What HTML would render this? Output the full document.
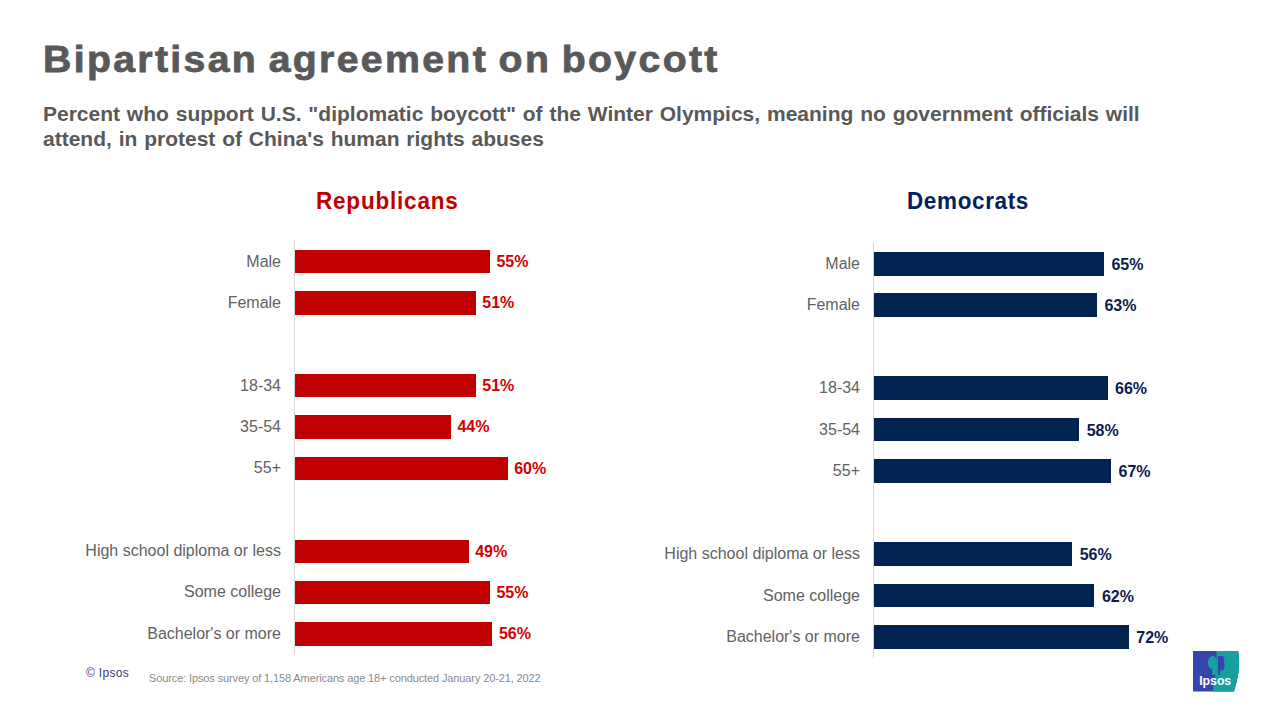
<!DOCTYPE html>
<html><head><meta charset="utf-8">
<style>
html,body{margin:0;padding:0;background:#fff;}
body{width:1280px;height:720px;position:relative;overflow:hidden;font-family:"Liberation Sans",sans-serif;}
.a{position:absolute;white-space:nowrap;}
#title{left:43px;top:36px;font-size:37px;font-weight:bold;color:#595959;line-height:48px;letter-spacing:2.2px;transform:scaleX(1.06);-webkit-text-stroke:0.8px #595959;word-spacing:-2.5px;transform-origin:0 0;}
.sub{left:43px;font-size:21px;font-weight:bold;color:#595959;line-height:25px;word-spacing:1.0px;letter-spacing:0px;}
#rh{left:316px;top:186px;font-size:22.5px;letter-spacing:0.8px;transform:scaleY(1.06);transform-origin:0 0;font-weight:bold;color:#C00000;line-height:30px;}
#dh{left:907px;top:186px;font-size:22.5px;letter-spacing:0.62px;transform:scaleY(1.06);transform-origin:0 0;font-weight:bold;color:#002060;line-height:30px;}
.axis{position:absolute;width:1px;background:#d9d9d9;}
.bar{position:absolute;height:23.2px;}
.rb{background:#C00000;height:23.3px;}
.db{background:#002352;height:23.7px;}
.lab{position:absolute;font-size:16px;color:#626262;line-height:20px;text-align:right;white-space:nowrap;}
.val{position:absolute;font-size:16px;font-weight:bold;line-height:20px;white-space:nowrap;}
.rv{color:#D40000;}
.dv{color:#0a2050;}
#copy{left:86px;top:665.3px;font-size:12px;color:#3c4070;line-height:16px;letter-spacing:0.3px;}
#src{left:149px;top:671px;font-size:11px;color:#8a8a8a;line-height:14px;letter-spacing:-0.12px;}
</style></head>
<body>
<div class="a" id="title">Bipartisan agreement on boycott</div>
<div class="a sub" id="s1" style="top:101px">Percent who support U.S. "diplomatic boycott" of the Winter Olympics, meaning no government officials will</div>
<div class="a sub" id="s2" style="top:126px">attend, in protest of China's human rights abuses</div>
<div class="a" id="rh">Republicans</div>
<div class="a" id="dh">Democrats</div>
<div class="axis" style="left:294px;top:240px;height:414.5px"></div>
<div class="bar rb" style="left:295px;top:250.00px;width:194.97px"></div>
<div class="lab" style="right:999px;top:251.50px">Male</div>
<div class="val rv" style="left:496.48px;top:252.00px">55%</div>
<div class="bar rb" style="left:295px;top:291.36px;width:180.79px"></div>
<div class="lab" style="right:999px;top:292.86px">Female</div>
<div class="val rv" style="left:482.29px;top:293.36px">51%</div>
<div class="bar rb" style="left:295px;top:374.08px;width:180.79px"></div>
<div class="lab" style="right:999px;top:375.58px">18-34</div>
<div class="val rv" style="left:482.29px;top:376.08px">51%</div>
<div class="bar rb" style="left:295px;top:415.44px;width:155.98px"></div>
<div class="lab" style="right:999px;top:416.94px">35-54</div>
<div class="val rv" style="left:457.48px;top:417.44px">44%</div>
<div class="bar rb" style="left:295px;top:456.80px;width:212.70px"></div>
<div class="lab" style="right:999px;top:458.30px">55+</div>
<div class="val rv" style="left:514.20px;top:458.80px">60%</div>
<div class="bar rb" style="left:295px;top:539.52px;width:173.70px"></div>
<div class="lab" style="right:999px;top:541.02px">High school diploma or less</div>
<div class="val rv" style="left:475.20px;top:541.52px">49%</div>
<div class="bar rb" style="left:295px;top:580.88px;width:194.97px"></div>
<div class="lab" style="right:999px;top:582.38px">Some college</div>
<div class="val rv" style="left:496.48px;top:582.88px">55%</div>
<div class="bar rb" style="left:295px;top:622.24px;width:197.46px"></div>
<div class="lab" style="right:999px;top:623.74px">Bachelor's or more</div>
<div class="val rv" style="left:498.96px;top:624.24px">56%</div>
<div class="axis" style="left:873px;top:243px;height:415px"></div>
<div class="bar db" style="left:874px;top:252.00px;width:229.97px"></div>
<div class="lab" style="right:420px;top:254.00px">Male</div>
<div class="val dv" style="left:1111.47px;top:255.00px">65%</div>
<div class="bar db" style="left:874px;top:293.44px;width:222.89px"></div>
<div class="lab" style="right:420px;top:295.44px">Female</div>
<div class="val dv" style="left:1104.39px;top:296.44px">63%</div>
<div class="bar db" style="left:874px;top:376.32px;width:233.51px"></div>
<div class="lab" style="right:420px;top:378.32px">18-34</div>
<div class="val dv" style="left:1115.01px;top:379.32px">66%</div>
<div class="bar db" style="left:874px;top:417.76px;width:205.20px"></div>
<div class="lab" style="right:420px;top:419.76px">35-54</div>
<div class="val dv" style="left:1086.70px;top:420.76px">58%</div>
<div class="bar db" style="left:874px;top:459.20px;width:237.05px"></div>
<div class="lab" style="right:420px;top:461.20px">55+</div>
<div class="val dv" style="left:1118.55px;top:462.20px">67%</div>
<div class="bar db" style="left:874px;top:542.08px;width:198.13px"></div>
<div class="lab" style="right:420px;top:544.08px">High school diploma or less</div>
<div class="val dv" style="left:1079.63px;top:545.08px">56%</div>
<div class="bar db" style="left:874px;top:583.52px;width:220.42px"></div>
<div class="lab" style="right:420px;top:585.52px">Some college</div>
<div class="val dv" style="left:1101.92px;top:586.52px">62%</div>
<div class="bar db" style="left:874px;top:624.96px;width:254.74px"></div>
<div class="lab" style="right:420px;top:626.96px">Bachelor's or more</div>
<div class="val dv" style="left:1136.24px;top:627.96px">72%</div>
<svg style="position:absolute;left:1193px;top:651px" width="48" height="42" viewBox="0 0 48 42">
<path d="M0 0 H45.2 C46.6 8 46.4 20 44.5 26.8 C43.5 32 42.2 36.5 40.9 40.6 H0 Z" fill="#3645ad"/>
<path d="M23.6 0 H45.2 C46.6 8 46.4 20 44.5 26.8 C43.5 32 42.2 36.5 40.9 40.6 H19.7 C20 34 21.5 28 22.6 24 L23.6 21 Z" fill="#17a0a0"/>
<ellipse cx="19.5" cy="11.6" rx="4.6" ry="6.7" fill="#17a0a0"/>
<rect x="19.2" y="12" width="5.8" height="12" fill="#17a0a0"/>
<path d="M24.9 4.9 H28.8 Q31.2 5 31.2 8 V12.2 L31.8 13.6 L31.2 15 V17.8 Q31 19.6 29 19.6 H24.9 Z" fill="#3645ad"/>
<rect x="24.9" y="18" width="2.2" height="6" fill="#3645ad"/>
<text x="6.2" y="34.2" fill="#fff" font-family="Liberation Sans" font-weight="bold" font-size="12.3" textLength="32" lengthAdjust="spacingAndGlyphs">Ipsos</text>
</svg>
<div class="a" id="copy">© Ipsos</div>
<div class="a" id="src">Source: Ipsos survey of 1,158 Americans age 18+ conducted January 20-21, 2022</div>
</body></html>
